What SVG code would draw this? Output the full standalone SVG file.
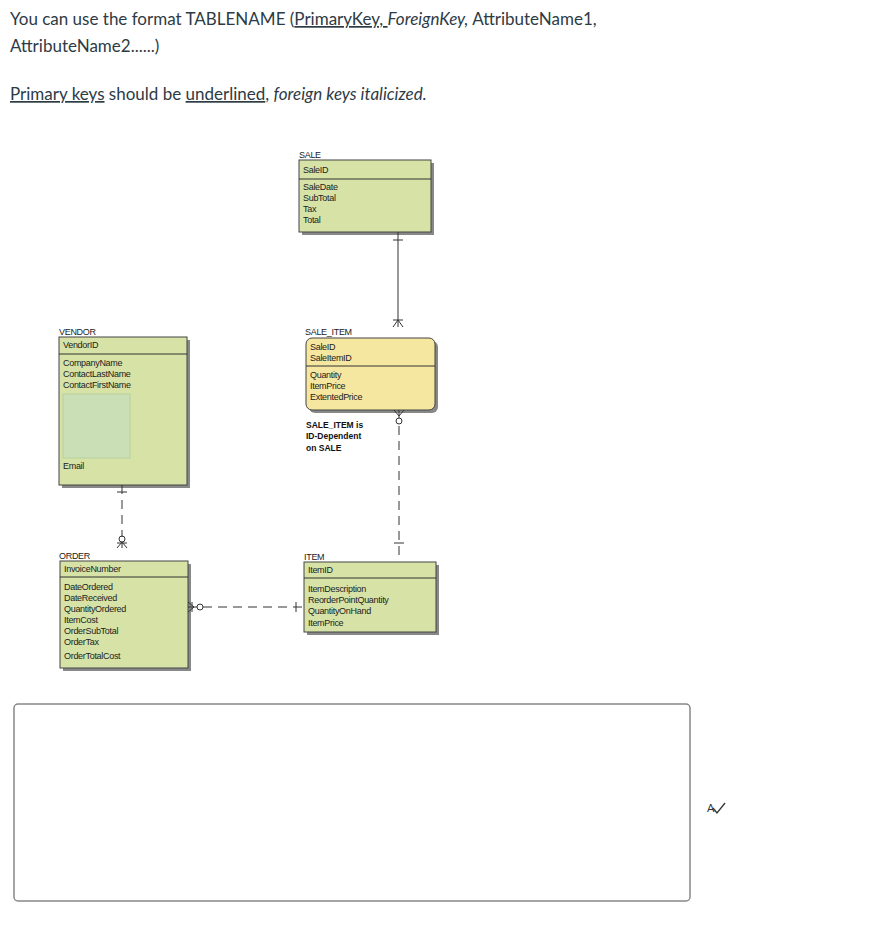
<svg xmlns="http://www.w3.org/2000/svg" width="884" height="927" viewBox="0 0 884 927">
<style>
.q{font-family:Lato,"Liberation Sans",sans-serif;font-size:17px;fill:#2d3b45}
.t{font-family:"Liberation Sans",Arial,sans-serif;font-size:9px;fill:#222;letter-spacing:-0.3px}
.b{font-family:"Liberation Sans",Arial,sans-serif;font-size:8.5px;font-weight:bold;fill:#111}
.e{fill:#d6e2a6;stroke:#444;stroke-width:1}
.y{fill:#f6e7a0;stroke:#444;stroke-width:1}
.s{fill:#888}
.l{stroke:#333;stroke-width:1;fill:none}
.d{stroke:#333;stroke-width:1;fill:none;stroke-dasharray:9,6}
</style>
<rect width="884" height="927" fill="#fff"/>
<g id="instructions">
<text class="q" x="10" y="25">You can use the format TABLENAME (<tspan text-decoration="underline">PrimaryKey, </tspan><tspan font-style="italic">ForeignKey,</tspan> AttributeName1,</text>
<text class="q" x="10" y="52">AttributeName2......)</text>
<text class="q" x="10" y="100"><tspan text-decoration="underline">Primary keys</tspan> should be <tspan text-decoration="underline">underlined</tspan>, <tspan font-style="italic">foreign keys italicized.</tspan></text>
</g>
<g id="SALE">
<text class="t" x="299" y="158">SALE</text>
<rect class="s" x="302" y="163" width="132" height="72"/>
<rect class="e" x="299" y="160" width="132" height="72"/>
<line class="l" x1="299" y1="179" x2="431" y2="179"/>
<text class="t" x="303" y="173">SaleID</text>
<text class="t" x="303" y="190">SaleDate</text><text class="t" x="303" y="201">SubTotal</text><text class="t" x="303" y="212">Tax</text><text class="t" x="303" y="223">Total</text>
</g>
<g id="SALE_ITEM">
<text class="t" x="305" y="335">SALE_ITEM</text>
<rect class="s" x="309" y="341" width="129" height="72" rx="6"/>
<rect class="y" x="306" y="338" width="129" height="72" rx="6"/>
<line class="l" x1="306" y1="366" x2="435" y2="366"/>
<text class="t" x="310" y="350">SaleID</text><text class="t" x="310" y="361">SaleItemID</text>
<text class="t" x="310" y="378">Quantity</text><text class="t" x="310" y="389">ItemPrice</text><text class="t" x="310" y="400">ExtentedPrice</text>
<text class="b" x="306" y="428">SALE_ITEM is</text><text class="b" x="306" y="439">ID-Dependent</text><text class="b" x="306" y="451">on SALE</text>
</g>
<g id="VENDOR">
<text class="t" x="59" y="335">VENDOR</text>
<rect class="s" x="62" y="340" width="128" height="148"/>
<rect class="e" x="59" y="337" width="128" height="148"/>
<line class="l" x1="59" y1="354" x2="187" y2="354"/>
<text class="t" x="63" y="348">VendorID</text>
<text class="t" x="63" y="366">CompanyName</text><text class="t" x="63" y="377">ContactLastName</text><text class="t" x="63" y="388">ContactFirstName</text>
<rect x="63" y="394" width="67" height="64" fill="#cadfb5" stroke="#b8d0a0"/>
<text class="t" x="63" y="469">Email</text>
</g>
<g id="ORDER">
<text class="t" x="59" y="559">ORDER</text>
<rect class="s" x="63" y="564" width="128" height="107"/>
<rect class="e" x="60" y="561" width="128" height="107"/>
<line class="l" x1="60" y1="577" x2="188" y2="577"/>
<text class="t" x="64" y="572">InvoiceNumber</text>
<text class="t" x="64" y="590">DateOrdered</text><text class="t" x="64" y="601">DateReceived</text><text class="t" x="64" y="612">QuantityOrdered</text><text class="t" x="64" y="623">ItemCost</text><text class="t" x="64" y="634">OrderSubTotal</text><text class="t" x="64" y="645">OrderTax</text><text class="t" x="64" y="659">OrderTotalCost</text>
</g>
<g id="ITEM">
<text class="t" x="304" y="560">ITEM</text>
<rect class="s" x="307" y="565" width="132" height="70"/>
<rect class="e" x="304" y="562" width="132" height="70"/>
<line class="l" x1="304" y1="578" x2="436" y2="578"/>
<text class="t" x="308" y="573">ItemID</text>
<text class="t" x="308" y="592">ItemDescription</text><text class="t" x="308" y="603">ReorderPointQuantity</text><text class="t" x="308" y="614">QuantityOnHand</text><text class="t" x="308" y="626">ItemPrice</text>
</g>
<g id="connectors">
<line class="l" x1="398" y1="232" x2="398" y2="327"/>
<line class="l" x1="393" y1="240" x2="403" y2="240"/>
<line class="l" x1="393" y1="320" x2="403" y2="320"/>
<path class="l" d="M393 327 L398 320 L403 327"/>
<line class="d" x1="399" y1="426" x2="399" y2="555"/>
<path class="l" d="M394 410 L399 416 L404 410"/>
<line class="l" x1="399" y1="410" x2="399" y2="418"/>
<circle class="l" cx="399" cy="421" r="3" fill="#fff"/>
<line class="l" x1="394" y1="543" x2="404" y2="543"/>
<line class="d" x1="122" y1="485" x2="122" y2="537"/>
<line class="l" x1="117" y1="492" x2="127" y2="492"/>
<circle class="l" cx="122" cy="539" r="3" fill="#fff"/>
<line class="l" x1="117" y1="543" x2="127" y2="543"/>
<path class="l" d="M117 548 L122 542 L127 548"/>
<line class="l" x1="122" y1="542" x2="122" y2="548"/>
<line class="d" x1="203" y1="607" x2="304" y2="607"/>
<path class="l" d="M188 602 L194 607 L188 612"/>
<line class="l" x1="188" y1="607" x2="197" y2="607"/>
<line class="l" x1="192" y1="602" x2="192" y2="612"/>
<circle class="l" cx="200" cy="607" r="3" fill="#fff"/>
<line class="l" x1="296" y1="602" x2="296" y2="612"/>
</g>
<g id="answer-box">
<rect x="14" y="704" width="676" height="197" rx="4" fill="#fff" stroke="#888" stroke-width="1.5"/>
<text x="707" y="812" font-family="Lato,'Liberation Sans',sans-serif" font-size="11" fill="#333">A</text>
<path d="M713 808 L717 813 L725 803" stroke="#333" stroke-width="1.3" fill="none"/>
</g>
</svg>
